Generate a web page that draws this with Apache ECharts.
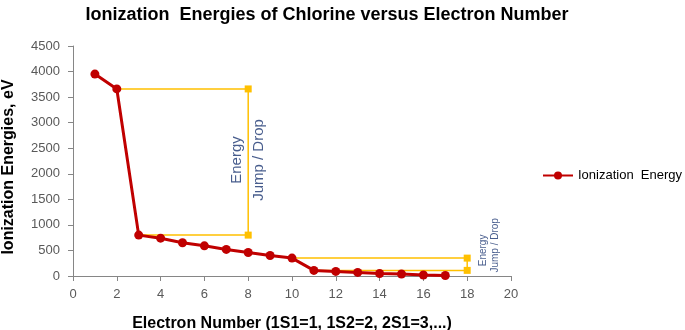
<!DOCTYPE html>
<html>
<head>
<meta charset="utf-8">
<script src="https://cdn.jsdelivr.net/npm/echarts@6/dist/echarts.min.js"></script>
<style>
    html, body { margin: 0; padding: 0; background: #fff; }
    #chart_IE_Main { width: 685px; height: 330px; }
</style>
</head>
<body>
<div id="chart_IE_Main"></div>
<script>
    // electron number vs ionization energy (eV)
    var electronNo = [1, 2, 3, 4, 5, 6, 7, 8, 9, 10, 11, 12, 13, 14, 15, 16, 17];
    var ionEnergy = [3950, 3660, 800, 740, 650, 590, 520, 460, 400, 350, 110, 90, 70, 50, 40, 20, 10];

    // yellow "jump / drop" brackets
    var jump1 = [[2, 3660], [8, 3660], [8, 800], [3, 800]];
    var jump2 = [[10, 350], [18, 350], [18, 110], [11, 110]];

    // where the rotated notes sit (data space)
    var note1 = [[7.5, 2270, 'Energy'], [8.5, 2270, 'Jump / Drop']];
    var note2 = [[18.72, 500, 'Energy'], [19.27, 600, 'Jump / Drop']];

    var yTicks = [0, 500, 1000, 1500, 2000, 2500, 3000, 3500, 4000, 4500];

    var FONT = 'Liberation Sans';
    var AXIS_GREY = '#868686';
    var RED = '#c00000';
    var YELLOW = '#ffc000';
    var NAVY = '#1a3470';

    var chart_IE_Main = echarts.init(document.getElementById('chart_IE_Main'));

    var cornerOnly = function (value, params) {
        return (params.dataIndex === 1 || params.dataIndex === 2) ? 'rect' : 'none';
    };

    var bracket = function (data) {
        return {
            type: 'line',
            data: data,
            symbol: cornerOnly,
            symbolSize: 7,
            lineStyle: { color: YELLOW, width: 1.5 },
            itemStyle: { color: YELLOW },
            silent: true,
            z: 2
        };
    };

    var note = function (data, size) {
        return {
            type: 'scatter',
            data: data,
            symbolSize: 0,
            silent: true,
            z: 4,
            label: {
                show: true,
                position: 'inside',
                rotate: 90,
                color: NAVY,
                textBorderWidth: 0,
                fontFamily: FONT,
                fontSize: size,
                formatter: function (p) { return p.data[2]; }
            }
        };
    };

    var option = {
        animation: false,
        textStyle: { fontFamily: FONT },
        title: {
            text: 'Ionization  Energies of Chlorine versus Electron Number',
            left: 322,
            top: 1,
            textAlign: 'center',
            textStyle: { fontFamily: FONT, fontSize: 18, fontWeight: 'bold', color: '#000' }
        },
        legend: {
            data: ['Ionization  Energy'],
            left: 537,
            top: 164,
            itemWidth: 30,
            itemHeight: 10,
            itemGap: 8,
            textStyle: { fontFamily: FONT, fontSize: 13, color: '#000' }
        },
        grid: { left: 73, right: 174, top: 46, bottom: 54, outerBoundsMode: 'none', containLabel: false },
        xAxis: {
            type: 'value',
            min: 0,
            max: 20,
            interval: 2,
            name: 'Electron Number (1S1=1, 1S2=2, 2S1=3,...)',
            nameLocation: 'middle',
            nameGap: 40,
            nameTextStyle: { fontFamily: FONT, fontSize: 16, fontWeight: 'bold', color: '#000' },
            axisLine: { show: true, lineStyle: { color: AXIS_GREY } },
            axisTick: { show: true, length: 5, lineStyle: { color: AXIS_GREY } },
            axisLabel: { color: '#595959', fontSize: 13, margin: 12, fontFamily: FONT },
            splitLine: { show: false }
        },
        yAxis: {
            type: 'value',
            min: yTicks[0],
            max: yTicks[yTicks.length - 1],
            interval: 500,
            name: 'Ionization Energies, eV',
            nameLocation: 'middle',
            nameGap: 56,
            nameTextStyle: {
                fontFamily: FONT, fontSize: 16, fontWeight: 'bold', color: '#000',
                padding: [0, 12, 0, 0]
            },
            axisLine: { show: true, lineStyle: { color: AXIS_GREY } },
            axisTick: { show: true, length: 5, lineStyle: { color: AXIS_GREY } },
            axisLabel: {
                color: '#595959', fontSize: 13, margin: 13, fontFamily: FONT,
                formatter: function (v) { return String(v); }
            },
            splitLine: { show: false }
        },
        series: [
            bracket(jump1),
            bracket(jump2),
            {
                name: 'Ionization  Energy',
                type: 'line',
                data: electronNo.map(function (x, i) { return [x, ionEnergy[i]]; }),
                symbol: 'circle',
                symbolSize: 9,
                showAllSymbol: true,
                lineStyle: { color: RED, width: 3 },
                itemStyle: { color: RED },
                z: 3
            },
            note(note1, 15),
            note(note2, 10)
        ]
    };

    chart_IE_Main.setOption(option);
</script>
</body>
</html>
